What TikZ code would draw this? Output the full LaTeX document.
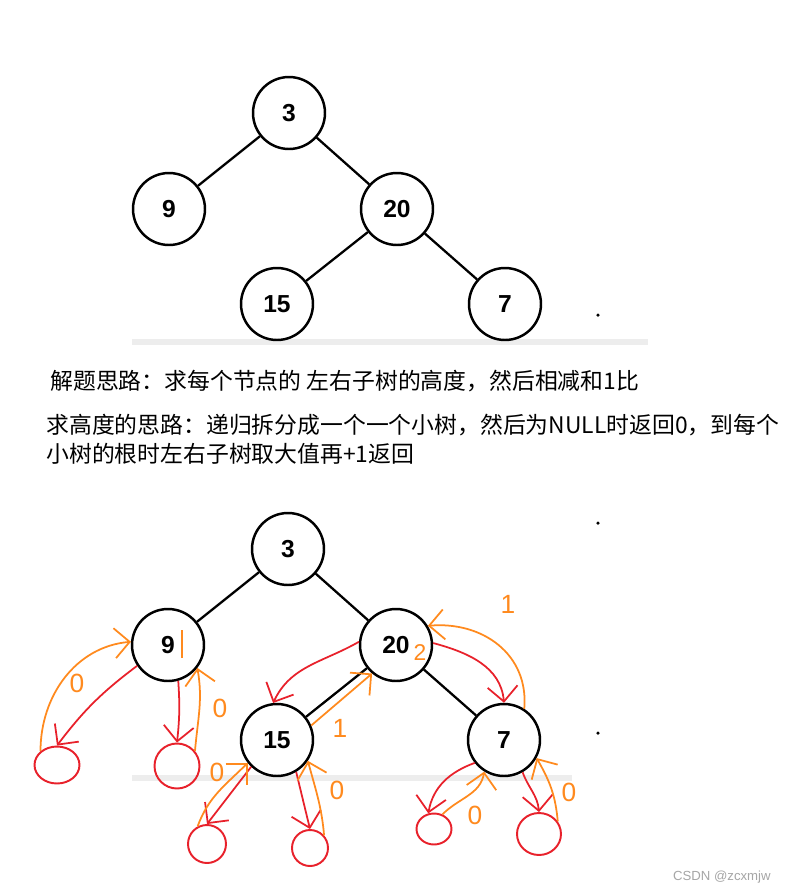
\documentclass[tikz,border=0pt]{standalone}
\usepackage{fontspec}
\setmainfont{Liberation Sans}
\newfontfamily\cjkfont{Noto Sans CJK SC}
\usepackage{tikz}
\usetikzlibrary{shapes.geometric, arrows.meta, positioning}
\definecolor{pen}{HTML}{E8212B}
\definecolor{marker}{HTML}{FF8A1E}
\definecolor{rulegray}{HTML}{EDEDED}

\begin{document}
\begin{tikzpicture}[x=0.02cm, y=-0.02cm,
    tnode/.style={circle, draw, line width=1.4pt, fill=white, minimum size=1.44cm,
                  inner sep=0pt, font=\fontsize{14}{14}\selectfont\bfseries},
    link/.style={line width=1.3pt},
    leaf/.style={ellipse, draw=pen, line width=1.1pt, inner sep=0pt},
    godown/.style={-{Straight Barb[length=3mm, width=6mm]}, draw=pen, line width=1pt},
    goup/.style={-{Straight Barb[length=3mm, width=6mm]}, draw=marker, line width=1pt},
    hnum/.style={text=marker, font=\fontsize{15}{15}\selectfont, inner sep=0pt},
    cjk/.style={anchor=west, inner sep=0pt, font=\cjkfont\fontsize{13}{13}\selectfont}
]
\fill[white] (0,0) rectangle (786,894);
\useasboundingbox (0,0) rectangle (786,894);

\draw[rulegray, line width=3pt] (132,342) -- (648,342);
\draw[rulegray, line width=3pt] (132,778) -- (572,778);
\fill (598,315) circle (1pt);
\fill (598,523) circle (1pt);
\fill (598,733) circle (1pt);

\node[tnode] (a3) at (289,113) {3};
\node[tnode] (a9) at (169,209) {9};
\node[tnode] (a20) at (397,209) {20};
\node[tnode] (a15) at (277,304) {15};
\node[tnode] (a7) at (505,304) {7};

\draw[link] (a3) -- (a9);
\draw[link] (a3) -- (a20);
\draw[link] (a20) -- (a15);
\draw[link] (a20) -- (a7);

\node[cjk] (idea) at (50,381) {解题思路：求每个节点的 左右子树的高度，然后相减和1比};
\node[cjk] (howa) at (46,425) {求高度的思路：递归拆分成一个一个小树，然后为NULL时返回0，到每个};
\node[cjk] (howb) at (46,454) {小树的根时左右子树取大值再+1返回};

\node[tnode] (b3) at (288,549) {3};
\node[tnode] (b9) at (168,645) {9};
\node[tnode] (b20) at (396,645) {20};
\node[tnode] (b15) at (277,740) {15};
\node[tnode] (b7) at (504,740) {7};

\draw[link] (b3) -- (b9);
\draw[link] (b3) -- (b20);
\draw[link] (b20) -- (b15);
\draw[link] (b20) -- (b7);

\node[leaf, minimum width=0.9cm, minimum height=0.74cm] (la) at (57,765) {};
\node[leaf, minimum width=0.9cm, minimum height=0.9cm] (lb) at (177,766) {};
\node[leaf, minimum width=0.76cm, minimum height=0.76cm] (lc) at (207,844) {};
\node[leaf, minimum width=0.72cm, minimum height=0.72cm] (ld) at (310,848) {};
\node[leaf, minimum width=0.7cm, minimum height=0.62cm] (le) at (434,829) {};
\node[leaf, minimum width=0.88cm, minimum height=0.84cm] (lf) at (539,834) {};

\draw[godown] (b9.214) to[bend right=8] (la.north);
\draw[godown] (b9.286) to[bend left=5] (lb.north);
\draw[godown] (b20.175) to[out=210, in=65] (b15.96);
\draw[godown] (b15.226) -- (lc.north);
\draw[godown] (b15.301) -- (ld.north);
\draw[godown] (b20.3) to[out=-15, in=95] (b7.north);
\draw[godown] (b7.218) to[out=200, in=80] (le.110);
\draw[godown] (b7.300) to[out=-70, in=95] (lf.north);

\draw[goup] (la.140) to[out=90, in=185] (b9.175);
\draw[goup] (lb.40) to[out=85, in=-80] (b9.322);
\draw[goup] (b15.23) -- (b20.230);
\draw[goup] (b7.57) to[out=85, in=5, looseness=1.1] (b20.31);
\draw[goup] (lc.118) to[out=70, in=225] (b15.218);
\draw[goup] (ld.42) to[out=95, in=-75] (b15.326);
\draw[goup] (le.60) to[out=45, in=-100] (b7.238);
\draw[goup] (lf.34) to[out=95, in=-60] (b7.331);

\draw[marker, line width=1pt] (182,630) -- (182,658);
\node[hnum, font=\fontsize{13}{13}\selectfont] (two) at (420,653) {2};
\node[hnum] (h9a) at (77,683) {0};
\node[hnum] (h9b) at (220,708) {0};
\node[hnum] (h15) at (340,728) {1};
\node[hnum] (h7) at (508,604) {1};
\node[hnum] (h15a) at (217,772) {0};
\node[hnum] (h15b) at (337,790) {0};
\node[hnum] (h7a) at (475,815) {0};
\node[hnum] (h7b) at (569,792) {0};

\node[text=gray!70, anchor=east, inner sep=0pt, font=\fontsize{7.5}{7.5}\selectfont] (wm) at (771,877) {CSDN @zcxmjw};
\end{tikzpicture}
\end{document}
